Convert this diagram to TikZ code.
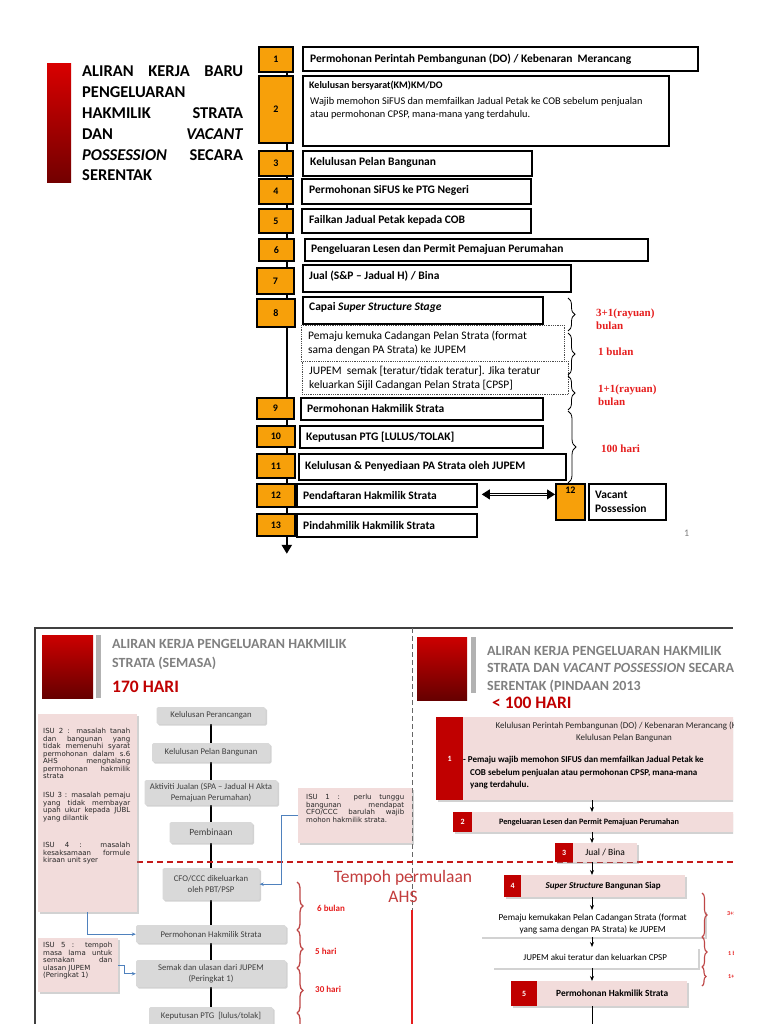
\documentclass[tikz,border=0pt]{standalone}
\usepackage{fontspec}
\setmainfont{Carlito}
\newfontfamily\rserif{Liberation Serif}
\newfontfamily\isufont{DejaVu Sans}
\usetikzlibrary{arrows.meta,decorations.pathreplacing,shadows,calc,backgrounds}
\definecolor{orangeF}{RGB}{247,160,10}
\definecolor{pinkF}{RGB}{242,220,219}
\definecolor{grayF}{RGB}{217,217,217}
\definecolor{grayT}{RGB}{64,64,64}
\definecolor{titleG}{RGB}{128,128,128}
\definecolor{redB}{RGB}{192,0,0}
\definecolor{redL}{RGB}{230,30,30}
\definecolor{braceR}{RGB}{190,70,70}
\definecolor{blueC}{RGB}{79,129,189}
\definecolor{tempohR}{RGB}{195,60,60}
\newcommand{\fsz}[2]{\fontsize{#1}{#2}\selectfont}
\newcommand{\jl}[2]{\makebox[#1][s]{#2}}
\begin{document}
\begin{tikzpicture}[x=1pt,y=-1pt,
 numbox/.style={draw, line width=1.8pt, fill=orangeF, font=\bfseries\fsz{10}{11}, inner sep=0pt, anchor=north west},
 tbox/.style={draw, line width=1.8pt, fill=white, inner sep=0pt, anchor=north west},
 dbox/.style={draw=black!70, densely dotted, line width=0.8pt, fill=white, inner sep=0pt, anchor=north west},
 tl/.style={anchor=west, inner sep=0pt, font=\bfseries\fsz{11.5}{13}},
 tlr/.style={anchor=west, inner sep=0pt, align=left, font=\fsz{11.5}{14}},
 rlab/.style={anchor=west, inner sep=0pt, align=left, text=redL, font=\rserif\bfseries\fsz{11}{12.5}},
 tbrace/.style={decorate, decoration={brace, amplitude=7pt}, line width=0.8pt},
 shd/.style={drop shadow={shadow xshift=1.5pt, shadow yshift=-1.5pt, opacity=0.35}},
 gbox/.style={fill=grayF, rounded corners=1.5pt, shd, inner sep=0pt, anchor=north, align=center, text=grayT, font=\fsz{8.7}{10.5}},
 ibox/.style={fill=pinkF, shd, inner sep=0pt, anchor=north west},
 isutxt/.style={anchor=north west, inner sep=0pt, align=left, text=black!85, font=\isufont\fsz{7}{7.5}},
 bluec/.style={draw=blueC, line width=0.8pt, -{Stealth[length=4pt,width=3.5pt]}},
 lbrace/.style={decorate, decoration={brace, amplitude=6pt}, draw=braceR, line width=1.3pt},
 llab/.style={anchor=west, inner sep=0pt, text=redL, font=\bfseries\fsz{9}{10}},
 rblk/.style={fill=redB, inner sep=0pt, anchor=north west, text=white, font=\bfseries\fsz{8}{9}, shd},
 pbox/.style={fill=pinkF, inner sep=0pt, anchor=north west, shd},
 wbox/.style={fill=white, inner sep=0pt, anchor=north west, shd},
 arr/.style={-{Stealth[length=5pt,width=4pt]}, line width=0.9pt}
]
\useasboundingbox (0,0) rectangle (768,1024);

% ---------- TOP: title ----------
\node[anchor=north west, inner sep=0pt, minimum width=24pt, minimum height=119pt,
      top color=red!85!black, bottom color=red!45!black] (tbar) at (47,63) {};
\node[anchor=north west, inner sep=0pt, text width=161pt, align=left,
      font=\bfseries\fsz{16.5}{20.8}] (ttl) at (82,66)
 {ALIRAN\hfill KERJA\hfill BARU\\
  PENGELUARAN\\
  HAKMILIK\hfill STRATA\\
  DAN\hfill \textit{VACANT}\\
  \textit{POSSESSION}\hfill SECARA\\
  SERENTAK};

% ---------- TOP: rows ----------
\node[numbox, minimum width=34pt, minimum height=25pt] (n1) at (258,46) {1};
\node[tbox, minimum width=395pt, minimum height=24pt] (t1) at (302,46) {};
\node[tl] (t1x) at ([xshift=8pt]t1.west) {Permohonan Perintah Pembangunan (DO) / Kebenaran~~Merancang};

\node[numbox, minimum width=34pt, minimum height=67pt] (n2) at (258,75) {2};
\node[tbox, minimum width=366pt, minimum height=70pt] (t2) at (302,75) {};
\node[anchor=north west, inner sep=0pt, font=\bfseries\fsz{10}{11}] (t2a) at (309,81) {Kelulusan bersyarat(KM)KM/DO};
\node[anchor=north west, inner sep=0pt, align=left, font=\fsz{10.3}{13}] (t2b) at (310,97)
 {Wajib memohon SiFUS dan memfailkan Jadual Petak ke COB sebelum penjualan\\atau permohonan CPSP, mana-mana yang terdahulu.};

\node[numbox, minimum width=34pt, minimum height=25pt] (n3) at (258,150) {3};
\node[tbox, minimum width=229pt, minimum height=25pt] (t3) at (302,150) {};
\node[tl] (t3x) at ([xshift=8pt,yshift=1pt]t3.west) {Kelulusan Pelan Bangunan};

\node[numbox, minimum width=34pt, minimum height=25pt] (n4) at (258,178) {4};
\node[tbox, minimum width=229pt, minimum height=25pt] (t4) at (301,178) {};
\node[tl] (t4x) at ([xshift=8pt,yshift=1pt]t4.west) {Permohonan SiFUS ke PTG Negeri};

\node[numbox, minimum width=34pt, minimum height=24pt] (n5) at (258,208) {5};
\node[tbox, minimum width=229pt, minimum height=24pt] (t5) at (301,208) {};
\node[tl] (t5x) at ([xshift=8pt,yshift=1pt]t5.west) {Failkan Jadual Petak kepada COB};

\node[numbox, minimum width=35pt, minimum height=22pt] (n6) at (258,238) {6};
\node[tbox, minimum width=343pt, minimum height=22pt] (t6) at (304,238) {};
\node[tl] (t6x) at ([xshift=7pt]t6.west) {Pengeluaran Lesen dan Permit Pemajuan Perumahan};

\node[numbox, minimum width=37pt, minimum height=26pt] (n7) at (256,267) {7};
\node[tbox, minimum width=268pt, minimum height=27pt] (t7) at (302,264) {};
\node[tl] (t7x) at ([xshift=7pt,yshift=2.5pt]t7.west) {Jual (S\&P -- Jadual H) / Bina};

\node[numbox, minimum width=38pt, minimum height=28pt] (n8) at (256,298) {8};
\node[tbox, minimum width=240pt, minimum height=27pt] (t8) at (302,296) {};
\node[tl] (t8x) at ([xshift=7pt,yshift=3pt]t8.west) {Capai \textit{Super Structure Stage}};

\node[dbox, minimum width=263pt, minimum height=36pt] (da) at (301,325) {};
\node[tlr] (dax) at ([xshift=7pt]da.west) {Pemaju kemuka Cadangan Pelan Strata (format\\sama dengan PA Strata) ke JUPEM};
\node[dbox, minimum width=266pt, minimum height=33pt] (db) at (302,361) {};
\node[tlr] (dbx) at ([xshift=7pt]db.west) {JUPEM~ semak [teratur/tidak teratur]. Jika teratur\\keluarkan Sijil Cadangan Pelan Strata [CPSP]};

\node[numbox, minimum width=37pt, minimum height=21pt] (n9) at (256,397) {9};
\node[tbox, minimum width=242pt, minimum height=22pt] (t9) at (300,397) {};
\node[tl] (t9x) at ([xshift=7pt]t9.west) {Permohonan Hakmilik Strata};

\node[numbox, minimum width=38pt, minimum height=21pt] (n10) at (256,425) {10};
\node[tbox, minimum width=243pt, minimum height=22pt] (t10) at (299,425) {};
\node[tl] (t10x) at ([xshift=7pt]t10.west) {Keputusan PTG [LULUS/TOLAK]};

\node[numbox, minimum width=38pt, minimum height=24pt] (n11) at (256,453) {11};
\node[tbox, minimum width=267pt, minimum height=26pt] (t11) at (298,453) {};
\node[tl] (t11x) at ([xshift=7pt,yshift=1pt]t11.west) {Kelulusan \& Penyediaan PA Strata oleh JUPEM};

\node[numbox, minimum width=38pt, minimum height=23pt] (n12) at (256,483) {12};
\node[tbox, minimum width=180pt, minimum height=23pt] (t12) at (296,483) {};
\node[tl] (t12x) at ([xshift=7pt]t12.west) {Pendaftaran Hakmilik Strata};

\node[numbox, minimum width=38pt, minimum height=22pt] (n13) at (256,513) {13};
\node[tbox, minimum width=180pt, minimum height=23pt] (t13) at (296,513) {};
\node[tl] (t13x) at ([xshift=7pt]t13.west) {Pindahmilik Hakmilik Strata};

% spine of the number column, behind the boxes
\coordinate (vbot) at ([xshift=-9pt,yshift=-17pt]n13.south east);
\begin{scope}[on background layer]
 \fill[white] (0,0) rectangle (768,1024);
 \draw[line width=2.6pt, -{Triangle[width=10pt,length=9pt]}] ([xshift=-7pt]n1.south east) -- (vbot);
\end{scope}

% right 12 / vacant possession
\node[numbox, minimum width=29pt, minimum height=36pt, anchor=north west] (r12) at (555,483) {};
\node[anchor=north, inner sep=0pt, font=\bfseries\fsz{10}{11}] (r12n) at ([yshift=-4pt]r12.north) {12};
\node[tbox, minimum width=77pt, minimum height=36pt] (vp) at (588,483) {};
\node[tlr, font=\bfseries\fsz{11.5}{14}] (vpx) at ([xshift=7pt]vp.west) {Vacant\\Possession};
\draw[line width=0.9pt, double distance=1.8pt, {Triangle[width=10pt,length=8pt]}-{Triangle[width=10pt,length=8pt]}]
  ([xshift=4pt,yshift=1pt]t12.east) -- ([yshift=1pt]r12.west |- t12.east);

% braces top
\coordinate (b1a) at (568,298); \coordinate (b1b) at (568,331);
\coordinate (b2a) at (568,333); \coordinate (b2b) at (568,375);
\coordinate (b3a) at (568,376); \coordinate (b3b) at (568,410);
\coordinate (b4a) at (568,411); \coordinate (b4b) at (568,483);
\draw[tbrace] (b1a) -- (b1b);
\draw[tbrace] (b2a) -- (b2b);
\draw[tbrace] (b3a) -- (b3b);
\draw[tbrace, decoration={brace, amplitude=8pt}] (b4a) -- (b4b);
\node[rlab] (l1) at (596,319) {3+1(rayuan)\\bulan};
\node[rlab] (l2) at (598,352) {1 bulan};
\node[rlab] (l3) at (598,395) {1+1(rayuan)\\bulan};
\node[rlab] (l4) at (601,449) {100 hari};
\node[anchor=west, inner sep=0pt, text=black!50, font=\fsz{10}{12}] (pg) at (684,533) {1};

% ---------- BOTTOM: frame and dividers ----------
\coordinate (frBL) at (35,1030); \coordinate (frTL) at (35,628); \coordinate (frTR) at (733,628);
\draw[line width=1.3pt, black!75] (frBL) -- (frTL) -- (frTR);
\coordinate (gdA) at (412,628); \coordinate (gdB) at (412,910); \coordinate (gdC) at (412,1030);
\draw[black!60, line width=1pt, dash pattern=on 5pt off 3pt] (gdA) -- (gdB);
\draw[redL, line width=1.6pt] (gdB) -- (gdC);
\coordinate (rdA) at (137,862); \coordinate (rdB) at (733,862);
\draw[redL!85!black, line width=1.8pt, dash pattern=on 6pt off 4pt] (rdA) -- (rdB);
\node[align=center, inner sep=0pt, text=tempohR, font=\fsz{17.5}{20}] (tempoh) at (403,886) {Tempoh permulaan\\AHS};

% ---------- BOTTOM LEFT ----------
\node[anchor=north west, inner sep=0pt, minimum width=51pt, minimum height=63pt,
      top color=red!80!black, bottom color=red!40!black] (lsq) at (42,635) {};
\node[anchor=north west, inner sep=0pt, minimum width=5pt, minimum height=63pt, fill=black!30] (lbar) at (96,635) {};
\node[anchor=north west, inner sep=0pt, align=left, text=titleG, font=\bfseries\fsz{14}{19}] (lt1) at (112,639)
 {ALIRAN KERJA PENGELUARAN HAKMILIK\\STRATA (SEMASA)};
\node[anchor=base west, inner sep=0pt, text=redB, font=\bfseries\fsz{17.5}{20}] (lt2) at (112,692) {170 HARI};

\node[gbox, minimum width=109pt, minimum height=17pt] (g1) at (211,707) {Kelulusan Perancangan};
\node[gbox, minimum width=118pt, minimum height=19pt] (g2) at (211,743) {Kelulusan Pelan Bangunan};
\node[gbox, minimum width=133pt, minimum height=25pt] (g3) at (211,780) {Aktiviti Jualan (SPA -- Jadual H Akta\\Pemajuan Perumahan)};
\node[gbox, minimum width=83pt, minimum height=21pt, font=\fsz{9.5}{10}] (g4) at (211,822) {Pembinaan};
\node[gbox, minimum width=97pt, minimum height=32pt] (g5) at (211,868) {CFO/CCC dikeluarkan\\oleh PBT/PSP};
\node[gbox, minimum width=150pt, minimum height=18pt] (g6) at (211,925) {Permohonan Hakmilik Strata};
\node[gbox, minimum width=150pt, minimum height=27pt] (g7) at (211,960) {Semak dan ulasan dari JUPEM\\(Peringkat 1)};
\node[gbox, minimum width=124pt, minimum height=18pt] (g8) at (211,1007) {Keputusan PTG~~[lulus/tolak]};
\coordinate (lvend) at (g1.south |- 0,1030);
\begin{scope}[on background layer]
 \draw[line width=2pt] (g1.south) -- (lvend);
\end{scope}

% issue boxes
\node[ibox, minimum width=99pt, minimum height=198pt] (isu2) at (38,714) {};
\node[isutxt] (isu2t) at (43,728)
 {\jl{87pt}{ISU 2 : masalah tanah}\\\jl{87pt}{dan bangunan yang}\\\jl{87pt}{tidak memenuhi syarat}\\
  \jl{87pt}{permohonan dalam s.6}\\\jl{87pt}{AHS menghalang}\\\jl{87pt}{permohonan hakmilik}\\strata};
\node[isutxt] (isu3t) at (43,792)
 {\jl{87pt}{ISU 3 : masalah pemaju}\\\jl{87pt}{yang tidak membayar}\\\jl{87pt}{upah ukur kepada JUBL}\\yang dilantik};
\node[isutxt] (isu4t) at (43,842)
 {\jl{87pt}{ISU 4 : masalah}\\\jl{87pt}{kesaksamaan formule}\\kiraan unit syer};
\node[ibox, minimum width=80pt, minimum height=54pt] (isu5) at (38,938) {};
\node[isutxt] (isu5t) at (43,942)
 {\jl{69pt}{ISU 5 : tempoh}\\\jl{69pt}{masa lama untuk}\\\jl{69pt}{semakan dan}\\ulasan JUPEM\\(Peringkat 1)};
\node[ibox, minimum width=114pt, minimum height=55pt] (isu1) at (298,788) {};
\node[isutxt] (isu1t) at (306,794)
 {\jl{98pt}{ISU 1 : perlu tunggu}\\\jl{98pt}{bangunan mendapat}\\\jl{98pt}{CFO/CCC barulah wajib}\\mohon hakmilik strata.};

\draw[bluec] (isu1.west) -- ++(-17,0) |- (g5.east);
\draw[bluec] (isu2.south) |- (g6.west);
\draw[bluec] (isu5.east) -- ++(6,0) |- (g7.west);

% red braces left
\coordinate (c1a) at (297,882); \coordinate (c1b) at (297,930);
\coordinate (c2b) at (297,968); \coordinate (c3b) at (297,1013); \coordinate (c4b) at (297,1060);
\draw[lbrace] (c1a) -- (c1b);
\draw[lbrace] (c1b) -- (c2b);
\draw[lbrace] (c2b) -- (c3b);
\draw[lbrace] (c3b) -- (c4b);
\node[llab] (cl1) at (317,908) {6 bulan};
\node[llab] (cl2) at (315,951) {5 hari};
\node[llab] (cl3) at (315,989) {30 hari};

% ---------- BOTTOM RIGHT ----------
\begin{scope}
\clip (0,0) rectangle (733,1024);
\node[anchor=north west, inner sep=0pt, minimum width=50pt, minimum height=63pt,
      top color=red!80!black, bottom color=red!40!black] (rsq) at (417,637) {};
\node[anchor=north west, inner sep=0pt, minimum width=5pt, minimum height=56pt, fill=black!30] (rbar) at (471,637) {};
\node[anchor=north west, inner sep=0pt, align=left, text=titleG, font=\bfseries\fsz{14}{17.5}] (rt1) at (487,646)
 {ALIRAN KERJA PENGELUARAN HAKMILIK\\STRATA DAN \textit{VACANT POSSESSION} SECARA\\SERENTAK (PINDAAN 2013};
\node[anchor=base west, inner sep=0pt, text=redB, font=\bfseries\fsz{17.5}{20}] (rt2) at (492,708) {< 100 HARI};

\coordinate (ax) at (592,0);
\node[rblk, minimum width=27pt, minimum height=83pt] (rb1) at (436,717) {1};
\node[pbox, minimum width=327pt, minimum height=83pt] (pb1) at (463,717) {};
\node[anchor=north, inner sep=0pt, align=center, text=black!85, font=\fsz{9}{12}] (p1a) at (624,722)
 {Kelulusan Perintah Pembangunan (DO) / Kebenaran Merancang (KM) /\\Kelulusan Pelan Bangunan};
\node[anchor=north west, inner sep=0pt, align=left, font=\bfseries\fsz{9}{12.7}] (p1b) at (463,756)
 {- Pemaju wajib memohon SIFUS dan memfailkan Jadual Petak ke\\\hspace*{7pt}COB sebelum penjualan atau permohonan CPSP, mana-mana\\\hspace*{7pt}yang terdahulu.};

\node[rblk, minimum width=19pt, minimum height=20pt] (rb2) at (453,812) {2};
\node[pbox, minimum width=320pt, minimum height=20pt] (pb2) at (472,812) {};
\node[inner sep=0pt, font=\bfseries\fsz{8.2}{10}] (p2) at (589,822) {Pengeluaran Lesen dan Permit Pemajuan Perumahan};

\node[rblk, minimum width=18pt, minimum height=19pt] (rb3) at (555,843) {3};
\node[pbox, minimum width=64pt, minimum height=19pt, font=\fsz{9.5}{10}] (pb3) at (573,843) {Jual / Bina};

\node[rblk, minimum width=17pt, minimum height=22pt] (rb4) at (504,875) {4};
\node[pbox, minimum width=164pt, minimum height=22pt, font=\bfseries\fsz{9}{10}] (pb4) at (521,875) {\textit{Super Structure} Bangunan Siap};

\node[wbox, minimum width=225pt, minimum height=27pt, align=center, font=\fsz{9.2}{12}] (wb1) at (480,910)
 {Pemaju kemukakan Pelan Cadangan Strata (format\\yang sama dengan PA Strata) ke JUPEM};
\node[wbox, minimum width=206pt, minimum height=21pt, font=\fsz{9}{10}] (wb2) at (492,947) {JUPEM akui teratur dan keluarkan CPSP};

\node[rblk, minimum width=26pt, minimum height=25pt] (rb5) at (511,981) {5};
\node[pbox, minimum width=150pt, minimum height=25pt, font=\bfseries\fsz{9.4}{10}] (pb5) at (537,981) {Permohonan Hakmilik Strata};
\coordinate (axend) at (592,1030);

\draw[arr] (pb1.south -| ax) -- (pb2.north -| ax);
\draw[arr] (pb2.south -| ax) -- (pb3.north -| ax);
\draw[arr] (pb3.south -| ax) -- (pb4.north -| ax);
\draw[arr] (pb4.south -| ax) -- (wb1.north -| ax);
\draw[arr] (wb1.south -| ax) -- (wb2.north -| ax);
\draw[arr] (wb2.south -| ax) -- (pb5.north -| ax);
\draw[arr] (pb5.south -| ax) -- (axend);

\coordinate (e1a) at (702,893); \coordinate (e1b) at (702,937);
\coordinate (e2b) at (702,967); \coordinate (e3b) at (702,986);
\draw[lbrace, decoration={brace, amplitude=5pt}, line width=1.1pt] (e1a) -- (e1b);
\draw[lbrace, decoration={brace, amplitude=5pt}, line width=1.1pt] (e1b) -- (e2b);
\draw[lbrace, decoration={brace, amplitude=4pt}, line width=1.1pt] (e2b) -- (e3b);
\node[llab, font=\bfseries\fsz{6}{7}] (el1) at (727,914) {3+1};
\node[llab, font=\bfseries\fsz{6}{7}] (el2) at (728,953) {1 bulan};
\node[llab, font=\bfseries\fsz{6}{7}] (el3) at (728,977) {1+1};
\end{scope}
\end{tikzpicture}
\end{document}
